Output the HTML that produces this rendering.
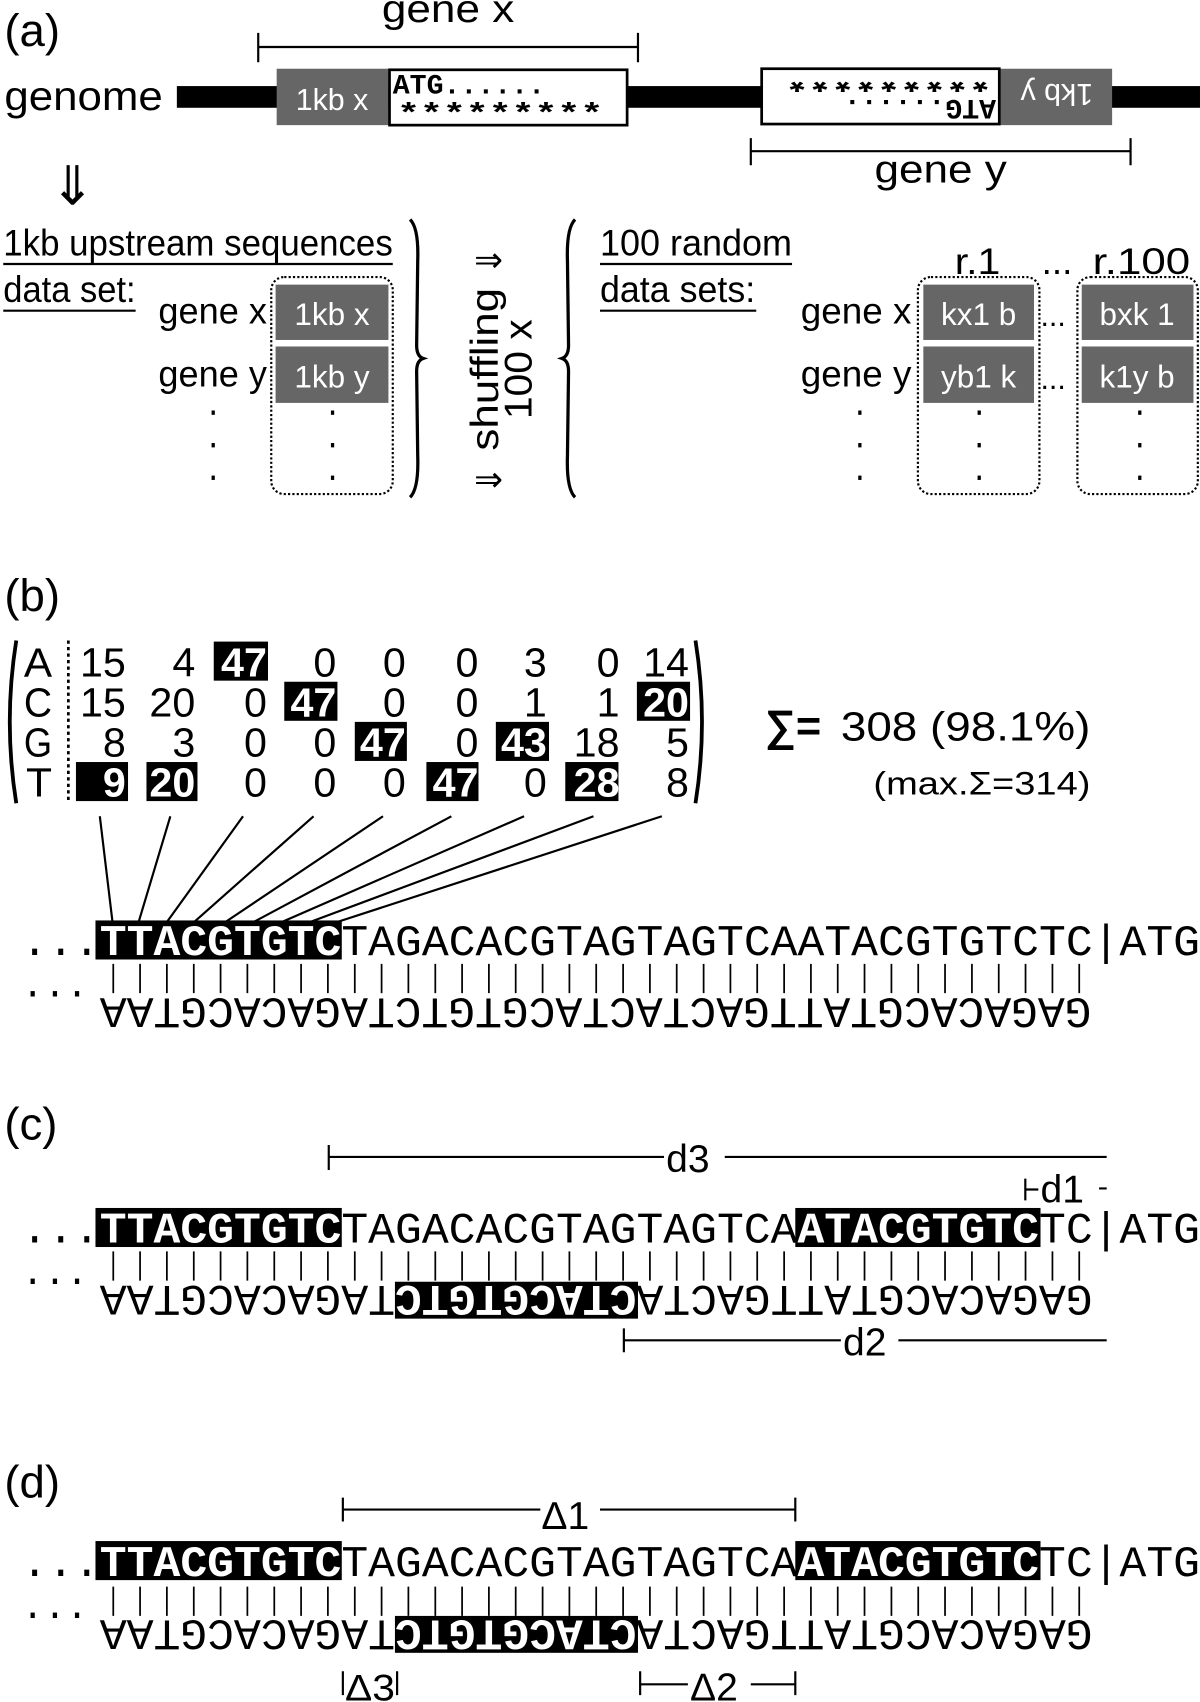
<!DOCTYPE html>
<html><head><meta charset="utf-8"><style>
html,body{margin:0;padding:0;background:#fff}
svg{display:block}
.s{font-family:"Liberation Sans",sans-serif;fill:#000}
.m{font-family:"Liberation Mono",monospace;fill:#000}
.w{fill:#fff}
</style></head><body>
<svg width="1200" height="1702" viewBox="0 0 1106 1568" xmlns="http://www.w3.org/2000/svg">
<defs>
<path id="pp" d="M104.4 0v27M129.1 0v27M153.8 0v27M178.6 0v27M203.3 0v27M228 0v27M252.8 0v27M277.5 0v27M302.2 0v27M327 0v27M351.7 0v27M376.4 0v27M401.2 0v27M425.9 0v27M450.6 0v27M475.3 0v27M500.1 0v27M524.8 0v27M549.5 0v27M574.3 0v27M599 0v27M623.7 0v27M648.5 0v27M673.2 0v27M697.9 0v27M722.7 0v27M747.4 0v27M772.1 0v27M796.8 0v27M821.6 0v27M846.3 0v27M871 0v27M895.8 0v27M920.5 0v27M945.2 0v27M970 0v27M994.7 0v27" stroke="#000" stroke-width="1.6" fill="none"/>
</defs>

<!-- (a) -->
<text class="s" x="4" y="42" font-size="42">(a)</text>
<text class="s" x="352" y="20" font-size="36" textLength="122" lengthAdjust="spacingAndGlyphs">gene x</text>
<path d="M238 43H588M238 30V57M588 30V57" stroke="#000" stroke-width="2" fill="none"/>
<text class="s" x="4" y="101" font-size="38" textLength="146" lengthAdjust="spacingAndGlyphs">genome</text>
<rect x="163" y="79" width="943" height="20" fill="#000"/>
<rect x="255" y="63" width="103" height="52" fill="#666"/>
<text class="s w" x="306" y="101" font-size="28" text-anchor="middle">1kb x</text>
<rect x="359" y="64" width="219" height="51" fill="#fff" stroke="#000" stroke-width="2.5"/>
<text class="m" x="362" y="86" font-size="26" font-weight="bold">ATG......</text>
<text class="m" x="366" y="112" font-size="26" font-weight="bold" textLength="190" lengthAdjust="spacingAndGlyphs">*********</text>
<g transform="rotate(180 863 89)">
<rect x="701" y="63" width="103" height="52" fill="#666"/>
<text class="s w" x="752" y="101" font-size="28" text-anchor="middle">1kb y</text>
<rect x="805" y="64" width="219" height="51" fill="#fff" stroke="#000" stroke-width="2.5"/>
<text class="m" x="808" y="86" font-size="26" font-weight="bold">ATG......</text>
<text class="m" x="812" y="112" font-size="26" font-weight="bold" textLength="190" lengthAdjust="spacingAndGlyphs">*********</text>
</g>
<path d="M692 139H1042M692 127V152M1042 127V152" stroke="#000" stroke-width="2" fill="none"/>
<text class="s" x="806" y="168" font-size="36" textLength="122" lengthAdjust="spacingAndGlyphs">gene y</text>
<text class="s" x="46" y="188" font-size="50">⇓</text>

<text class="s" x="3" y="235" font-size="34" textLength="359" lengthAdjust="spacingAndGlyphs">1kb upstream sequences</text>
<path d="M3 243H362" stroke="#000" stroke-width="2"/>
<text class="s" x="3" y="278" font-size="34" textLength="122" lengthAdjust="spacingAndGlyphs">data set:</text>
<path d="M3 286H125" stroke="#000" stroke-width="2"/>
<text class="s" x="146" y="298" font-size="34" textLength="100" lengthAdjust="spacingAndGlyphs">gene x</text>
<text class="s" x="146" y="356" font-size="34" textLength="100" lengthAdjust="spacingAndGlyphs">gene y</text>
<rect x="250" y="255" width="112" height="200" rx="12" fill="none" stroke="#000" stroke-width="2" stroke-dasharray="2 2"/>
<rect x="254" y="262" width="104" height="51" fill="#666"/>
<rect x="254" y="319" width="104" height="52" fill="#666"/>
<text class="s w" x="306" y="299" font-size="29" text-anchor="middle">1kb x</text>
<text class="s w" x="306" y="357" font-size="29" text-anchor="middle">1kb y</text>
<g fill="#000"><rect x="195" y="378" width="3" height="4"/><rect x="195" y="408" width="3" height="4"/><rect x="195" y="438" width="3" height="4"/>
<rect x="305" y="378" width="3" height="4"/><rect x="305" y="408" width="3" height="4"/><rect x="305" y="438" width="3" height="4"/>
<rect x="791" y="378" width="3" height="4"/><rect x="791" y="408" width="3" height="4"/><rect x="791" y="438" width="3" height="4"/>
<rect x="901" y="378" width="3" height="4"/><rect x="901" y="408" width="3" height="4"/><rect x="901" y="438" width="3" height="4"/>
<rect x="1049" y="378" width="3" height="4"/><rect x="1049" y="408" width="3" height="4"/><rect x="1049" y="438" width="3" height="4"/></g>

<path d="M378 202Q386 210 385 240L384 318Q384 328 390 330Q384 332 384 342L385 420Q386 450 378 458" stroke="#000" stroke-width="3" fill="none"/>
<path d="M530 202Q522 210 523 240L524 318Q524 328 518 330Q524 332 524 342L523 420Q522 450 530 458" stroke="#000" stroke-width="3" fill="none"/>
<text class="s" x="437" y="250" font-size="32">⇒</text>
<text class="s" x="437" y="452" font-size="32">⇒</text>
<text class="s" font-size="36" transform="translate(459 415) rotate(-90)" textLength="150" lengthAdjust="spacingAndGlyphs">shuffling</text>
<text class="s" font-size="36" transform="translate(490 386) rotate(-90)" textLength="92" lengthAdjust="spacingAndGlyphs">100 x</text>

<text class="s" x="553" y="235" font-size="34" textLength="177" lengthAdjust="spacingAndGlyphs">100 random</text>
<path d="M553 243H730" stroke="#000" stroke-width="2"/>
<text class="s" x="553" y="278" font-size="34" textLength="143" lengthAdjust="spacingAndGlyphs">data sets:</text>
<path d="M553 286H697" stroke="#000" stroke-width="2"/>
<text class="s" x="880" y="252" font-size="34" textLength="42" lengthAdjust="spacingAndGlyphs">r.1</text>
<text class="s" x="960" y="252" font-size="34">...</text>
<text class="s" x="1007" y="252" font-size="34" textLength="90" lengthAdjust="spacingAndGlyphs">r.100</text>
<text class="s" x="738" y="298" font-size="34" textLength="102" lengthAdjust="spacingAndGlyphs">gene x</text>
<text class="s" x="738" y="356" font-size="34" textLength="102" lengthAdjust="spacingAndGlyphs">gene y</text>
<rect x="846" y="255" width="112" height="200" rx="12" fill="none" stroke="#000" stroke-width="2" stroke-dasharray="2 2"/>
<rect x="993" y="255" width="111" height="200" rx="12" fill="none" stroke="#000" stroke-width="2" stroke-dasharray="2 2"/>
<rect x="851" y="262" width="102" height="51" fill="#666"/>
<rect x="851" y="319" width="102" height="52" fill="#666"/>
<rect x="997" y="262" width="103" height="51" fill="#666"/>
<rect x="997" y="319" width="103" height="52" fill="#666"/>
<text class="s w" x="902" y="299" font-size="29" text-anchor="middle">kx1 b</text>
<text class="s w" x="902" y="357" font-size="29" text-anchor="middle">yb1 k</text>
<text class="s w" x="1048" y="299" font-size="29" text-anchor="middle">bxk 1</text>
<text class="s w" x="1048" y="357" font-size="29" text-anchor="middle">k1y b</text>
<text class="s" x="959" y="300" font-size="28">...</text>
<text class="s" x="959" y="358" font-size="28">...</text>

<!-- (b) -->
<text class="s" x="4" y="563" font-size="42">(b)</text>
<path d="M15 590Q3 665 15 740" stroke="#000" stroke-width="3.5" fill="none"/>
<path d="M641 590Q653 665 641 740" stroke="#000" stroke-width="3.5" fill="none"/>
<path d="M63 590V740" stroke="#000" stroke-width="2.5" stroke-dasharray="3 3"/>
<g class="s" font-size="38">
<text x="22" y="623" textLength="26" lengthAdjust="spacingAndGlyphs">A</text>
<text x="22" y="660" textLength="26" lengthAdjust="spacingAndGlyphs">C</text>
<text x="22" y="697" textLength="26" lengthAdjust="spacingAndGlyphs">G</text>
<text x="24" y="734" textLength="24" lengthAdjust="spacingAndGlyphs">T</text>
</g>
<g fill="#000">
<rect x="197" y="591" width="50" height="36"/><rect x="262" y="628" width="49" height="36"/><rect x="587" y="628" width="49" height="36"/>
<rect x="327" y="665" width="48" height="36"/><rect x="457" y="665" width="49" height="36"/>
<rect x="70" y="702" width="48" height="36"/><rect x="135" y="702" width="47" height="36"/><rect x="393" y="702" width="48" height="36"/><rect x="521" y="702" width="49" height="36"/>
</g>
<g class="s" font-size="38" text-anchor="end">
<text x="116" y="623">15</text><text x="180" y="623">4</text><text x="246" y="623" class="s w" font-weight="bold">47</text><text x="310" y="623">0</text><text x="374" y="623">0</text><text x="441" y="623">0</text><text x="504" y="623">3</text><text x="571" y="623">0</text><text x="635" y="623">14</text>
<text x="116" y="660">15</text><text x="180" y="660">20</text><text x="246" y="660">0</text><text x="310" y="660" class="s w" font-weight="bold">47</text><text x="374" y="660">0</text><text x="441" y="660">0</text><text x="504" y="660">1</text><text x="571" y="660">1</text><text x="635" y="660" class="s w" font-weight="bold">20</text>
<text x="116" y="697">8</text><text x="180" y="697">3</text><text x="246" y="697">0</text><text x="310" y="697">0</text><text x="374" y="697" class="s w" font-weight="bold">47</text><text x="441" y="697">0</text><text x="504" y="697" class="s w" font-weight="bold">43</text><text x="571" y="697">18</text><text x="635" y="697">5</text>
<text x="116" y="734" class="s w" font-weight="bold">9</text><text x="180" y="734" class="s w" font-weight="bold">20</text><text x="246" y="734">0</text><text x="310" y="734">0</text><text x="374" y="734">0</text><text x="441" y="734" class="s w" font-weight="bold">47</text><text x="504" y="734">0</text><text x="571" y="734" class="s w" font-weight="bold">28</text><text x="635" y="734">8</text>
</g>
<text class="s" x="705" y="682" font-size="40" font-weight="bold">∑=</text>
<text class="s" x="775" y="682" font-size="38" textLength="230" lengthAdjust="spacingAndGlyphs">308  (98.1%)</text>
<text class="s" x="805" y="732" font-size="30" textLength="200" lengthAdjust="spacingAndGlyphs">(max.Σ=314)</text>
<path d="M92 752L104 852M157 752L127 852M224 752L152 852M289 752L176 852M353 752L204 852M416 752L229 852M483 752L254 852M547 752L279 852M610 752L303 852" stroke="#000" stroke-width="2" fill="none"/>

<!-- strand b -->
<text class="m" x="20" y="880" font-size="40">...</text>
<rect x="88" y="848" width="227" height="36" fill="#000"/>
<text class="m w" x="92" y="880" font-size="40" font-weight="bold" textLength="222.6" lengthAdjust="spacingAndGlyphs">TTACGTGTC</text>
<text class="m" x="314.6" y="880" font-size="40" textLength="791.4" lengthAdjust="spacingAndGlyphs">TAGACACGTAGTAGTCAATACGTGTCTC|ATG</text>
<use href="#pp" transform="translate(0 888)"/>
<text class="m" x="20" y="918" font-size="34">...</text>
<text class="m" x="92" y="0" font-size="40" textLength="914" lengthAdjust="spacingAndGlyphs" transform="translate(0 920) rotate(180 549 0)">GAGACACGTATTGACTACTACGTGTCTAGACACGTAA</text>

<!-- (c) -->
<text class="s" x="4" y="1050" font-size="42">(c)</text>
<path d="M303 1066H612M668 1066H1020M303 1055V1078" stroke="#000" stroke-width="2" fill="none"/>
<text class="s" x="614" y="1080" font-size="36">d3</text>
<path d="M945 1086V1106M945 1096H957M1013 1095H1020" stroke="#000" stroke-width="2" fill="none"/>
<text class="s" x="959" y="1108" font-size="36">d1</text>
<text class="m" x="20" y="1145" font-size="40">...</text>
<rect x="88" y="1113" width="227" height="36" fill="#000"/>
<rect x="733" y="1113" width="226" height="36" fill="#000"/>
<text class="m w" x="92" y="1145" font-size="40" font-weight="bold" textLength="222.6" lengthAdjust="spacingAndGlyphs">TTACGTGTC</text>
<text class="m" x="314.6" y="1145" font-size="40" textLength="420.4" lengthAdjust="spacingAndGlyphs">TAGACACGTAGTAGTCA</text>
<text class="m w" x="735" y="1145" font-size="40" font-weight="bold" textLength="222.6" lengthAdjust="spacingAndGlyphs">ATACGTGTC</text>
<text class="m" x="957.6" y="1145" font-size="40" textLength="148.4" lengthAdjust="spacingAndGlyphs">TC|ATG</text>
<use href="#pp" transform="translate(0 1153)"/>
<text class="m" x="20" y="1183" font-size="34">...</text>
<rect x="364" y="1181" width="224" height="34" fill="#000"/>
<text class="m" x="92" y="0" font-size="40" textLength="272" lengthAdjust="spacingAndGlyphs" transform="translate(0 1185) rotate(180 228 0)">TAGACACGTAA</text>
<text class="m w" x="364" y="0" font-size="40" font-weight="bold" textLength="222.6" lengthAdjust="spacingAndGlyphs" transform="translate(0 1185) rotate(180 475.3 0)">CTACGTGTC</text>
<text class="m" x="586.6" y="0" font-size="40" textLength="420.4" lengthAdjust="spacingAndGlyphs" transform="translate(0 1185) rotate(180 796.8 0)">GAGACACGTATTGACTA</text>
<path d="M575 1235H775M828 1235H1020M575 1224V1246" stroke="#000" stroke-width="2" fill="none"/>
<text class="s" x="777" y="1249" font-size="36">d2</text>

<!-- (d) -->
<text class="s" x="4" y="1380" font-size="42">(d)</text>
<path d="M316 1391H498M553 1391H733M316 1380V1402M733 1380V1402" stroke="#000" stroke-width="2" fill="none"/>
<text class="s" x="499" y="1409" font-size="36">Δ1</text>
<text class="m" x="20" y="1452" font-size="40">...</text>
<rect x="88" y="1420" width="227" height="36" fill="#000"/>
<rect x="733" y="1420" width="226" height="36" fill="#000"/>
<text class="m w" x="92" y="1452" font-size="40" font-weight="bold" textLength="222.6" lengthAdjust="spacingAndGlyphs">TTACGTGTC</text>
<text class="m" x="314.6" y="1452" font-size="40" textLength="420.4" lengthAdjust="spacingAndGlyphs">TAGACACGTAGTAGTCA</text>
<text class="m w" x="735" y="1452" font-size="40" font-weight="bold" textLength="222.6" lengthAdjust="spacingAndGlyphs">ATACGTGTC</text>
<text class="m" x="957.6" y="1452" font-size="40" textLength="148.4" lengthAdjust="spacingAndGlyphs">TC|ATG</text>
<use href="#pp" transform="translate(0 1462)"/>
<text class="m" x="20" y="1491" font-size="34">...</text>
<rect x="364" y="1489" width="224" height="34" fill="#000"/>
<text class="m" x="92" y="0" font-size="40" textLength="272" lengthAdjust="spacingAndGlyphs" transform="translate(0 1493) rotate(180 228 0)">TAGACACGTAA</text>
<text class="m w" x="364" y="0" font-size="40" font-weight="bold" textLength="222.6" lengthAdjust="spacingAndGlyphs" transform="translate(0 1493) rotate(180 475.3 0)">CTACGTGTC</text>
<text class="m" x="586.6" y="0" font-size="40" textLength="420.4" lengthAdjust="spacingAndGlyphs" transform="translate(0 1493) rotate(180 796.8 0)">GAGACACGTATTGACTA</text>
<path d="M316 1540V1562M366 1540V1562M590 1540V1562M733 1540V1562M590 1552H634M692 1552H733" stroke="#000" stroke-width="2" fill="none"/>
<text class="s" x="318" y="1567" font-size="34" textLength="46" lengthAdjust="spacingAndGlyphs">Δ3</text>
<text class="s" x="636" y="1567" font-size="36">Δ2</text>
</svg>
</body></html>
